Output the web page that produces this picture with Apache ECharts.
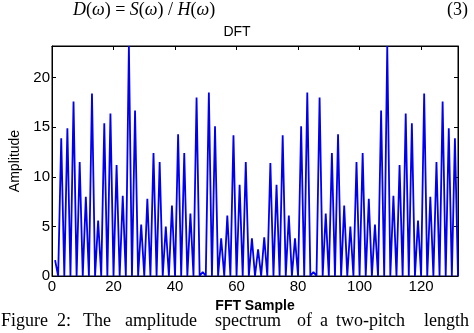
<!DOCTYPE html>
<html>
<head>
<meta charset="utf-8">
<script src="https://cdn.jsdelivr.net/npm/echarts@6/dist/echarts.min.js"></script>
<style>
  html, body { margin: 0; padding: 0; background: #ffffff; }
  #chart { width: 474px; height: 333px; }
</style>
</head>
<body>
<div id="chart"></div>
<script>
// DFT magnitude, one value per FFT sample (samples 1..132)
const amplitude = [
  1.6, 0, 13.9, 0, 14.9, 0, 17.6, 0, 11.5, 0,
  8.0, 0, 18.4, 0, 5.6, 0, 15.4, 0, 16.4, 0,
  11.2, 0, 8.1, 0, 23.2, 0, 16.7, 0, 5.2, 0,
  7.8, 0, 12.4, 0, 11.5, 0, 5.0, 0, 7.1, 0,
  14.3, 0, 12.4, 0, 6.3, 0, 18.0, 0, 0.4, 0,
  18.5, 0, 15.1, 0, 3.8, 0, 6.1, 0, 14.2, 0,
  9.2, 0, 11.5, 0, 3.8, 0, 2.7, 0, 3.9, 0,
  11.4, 0, 9.2, 0, 14.2, 0, 6.1, 0, 3.8, 0,
  15.1, 0, 18.5, 0, 0.4, 0, 18.0, 0, 6.3, 0,
  12.4, 0, 14.3, 0, 7.1, 0, 5.0, 0, 11.5, 0,
  12.4, 0, 7.8, 0, 5.2, 0, 16.7, 0, 23.2, 0,
  8.1, 0, 11.2, 0, 16.4, 0, 15.4, 0, 5.6, 0,
  18.4, 0, 8.0, 0, 11.5, 0, 17.6, 0, 14.9, 0,
  13.9, 0
];
const xTicks = [0, 20, 40, 60, 80, 100, 120];
const yTicks = [0, 5, 10, 15, 20];
const captionWords = ['Figure', '2:', 'The', 'amplitude', 'spectrum', 'of', 'a', 'two-pitch', 'length'];
const captionX = [1, 57, 83, 125, 215, 297, 320, 336, 424];

const sansFont = '"Liberation Sans", Arial, sans-serif';
const serifFont = '"Liberation Serif", "Times New Roman", serif';

const points = amplitude.map((v, i) => [i + 1, v]);
const xMax = amplitude.length;
const yMax = Math.max(...amplitude);

const tickLabel = (list) => (v) => (list.includes(v) ? String(v) : '');

const chart = echarts.init(document.getElementById('chart'), null, { renderer: 'canvas' });

// boxed frame: every side carries an axis line with inward ticks
const frameAxis = () => ({
  axisLine: { show: true, onZero: false, lineStyle: { color: '#000', width: 1 } },
  axisTick: { show: true, inside: true, length: 4, lineStyle: { color: '#000' } },
  splitLine: { show: false }
});

chart.setOption({
  animation: false,
  backgroundColor: '#ffffff',
  title: {
    text: 'DFT',
    left: 'center',
    top: 20,
    textStyle: { fontFamily: sansFont, fontSize: 14, fontWeight: 'normal', color: '#000' }
  },
  grid: {
    left: 37, right: 16, top: 46, bottom: 57, containLabel: false,
    show: true, borderColor: '#000', borderWidth: 1, backgroundColor: 'transparent'
  },
  xAxis: [
    Object.assign({
      type: 'value', min: 0, max: xMax, interval: 20, position: 'bottom',
      name: 'FFT Sample', nameLocation: 'middle', nameGap: 14,
      nameTextStyle: { fontFamily: sansFont, fontSize: 14, fontWeight: 'bold', color: '#000' },
      axisLabel: { formatter: tickLabel(xTicks), fontFamily: sansFont, fontSize: 15, color: '#000', margin: 3 }
    }, frameAxis()),
    Object.assign({
      type: 'value', min: 0, max: xMax, interval: 20, position: 'top',
      axisLabel: { show: false }
    }, frameAxis())
  ],
  yAxis: [
    Object.assign({
      type: 'value', min: 0, max: yMax, interval: 5, position: 'left',
      name: 'Amplitude', nameLocation: 'middle', nameGap: 30,
      nameTextStyle: { fontFamily: sansFont, fontSize: 14, color: '#000' },
      axisLabel: { formatter: tickLabel(yTicks), fontFamily: sansFont, fontSize: 15, color: '#000', margin: 2 }
    }, frameAxis()),
    Object.assign({
      type: 'value', min: 0, max: yMax, interval: 5, position: 'right',
      axisLabel: { show: false }
    }, frameAxis())
  ],
  series: [
    {
      type: 'line',
      data: points,
      xAxisIndex: 0,
      yAxisIndex: 0,
      showSymbol: false,
      lineStyle: { color: '#0000ee', width: 1.8 },
      clip: true,
      z: 3
    },
    {
      // same spectrum on the top/right axes so those frame sides get their ticks
      type: 'line',
      data: points,
      xAxisIndex: 1,
      yAxisIndex: 1,
      showSymbol: false,
      silent: true,
      lineStyle: { opacity: 0 },
      z: 1
    }
  ],
  graphic: [
    {
      type: 'text', left: 73, top: 1,
      style: {
        text: '{i|D}{n|(}{i|ω}{n|) = }{i|S}{n|(}{i|ω}{n|) / }{i|H}{n|(}{i|ω}{n|)}',
        rich: {
          i: { fontFamily: serifFont, fontSize: 18, fontStyle: 'italic', fill: '#000' },
          n: { fontFamily: serifFont, fontSize: 18, fill: '#000' }
        }
      }
    },
    {
      type: 'text', left: 447, top: 1,
      style: { text: '(3)', fontFamily: serifFont, fontSize: 18, fill: '#000' }
    }
  ].concat(captionWords.map((w, k) => ({
    type: 'text', left: captionX[k], top: 312,
    style: { text: w, fontFamily: serifFont, fontSize: 18, fill: '#000' }
  })))
});
</script>
</body>
</html>
